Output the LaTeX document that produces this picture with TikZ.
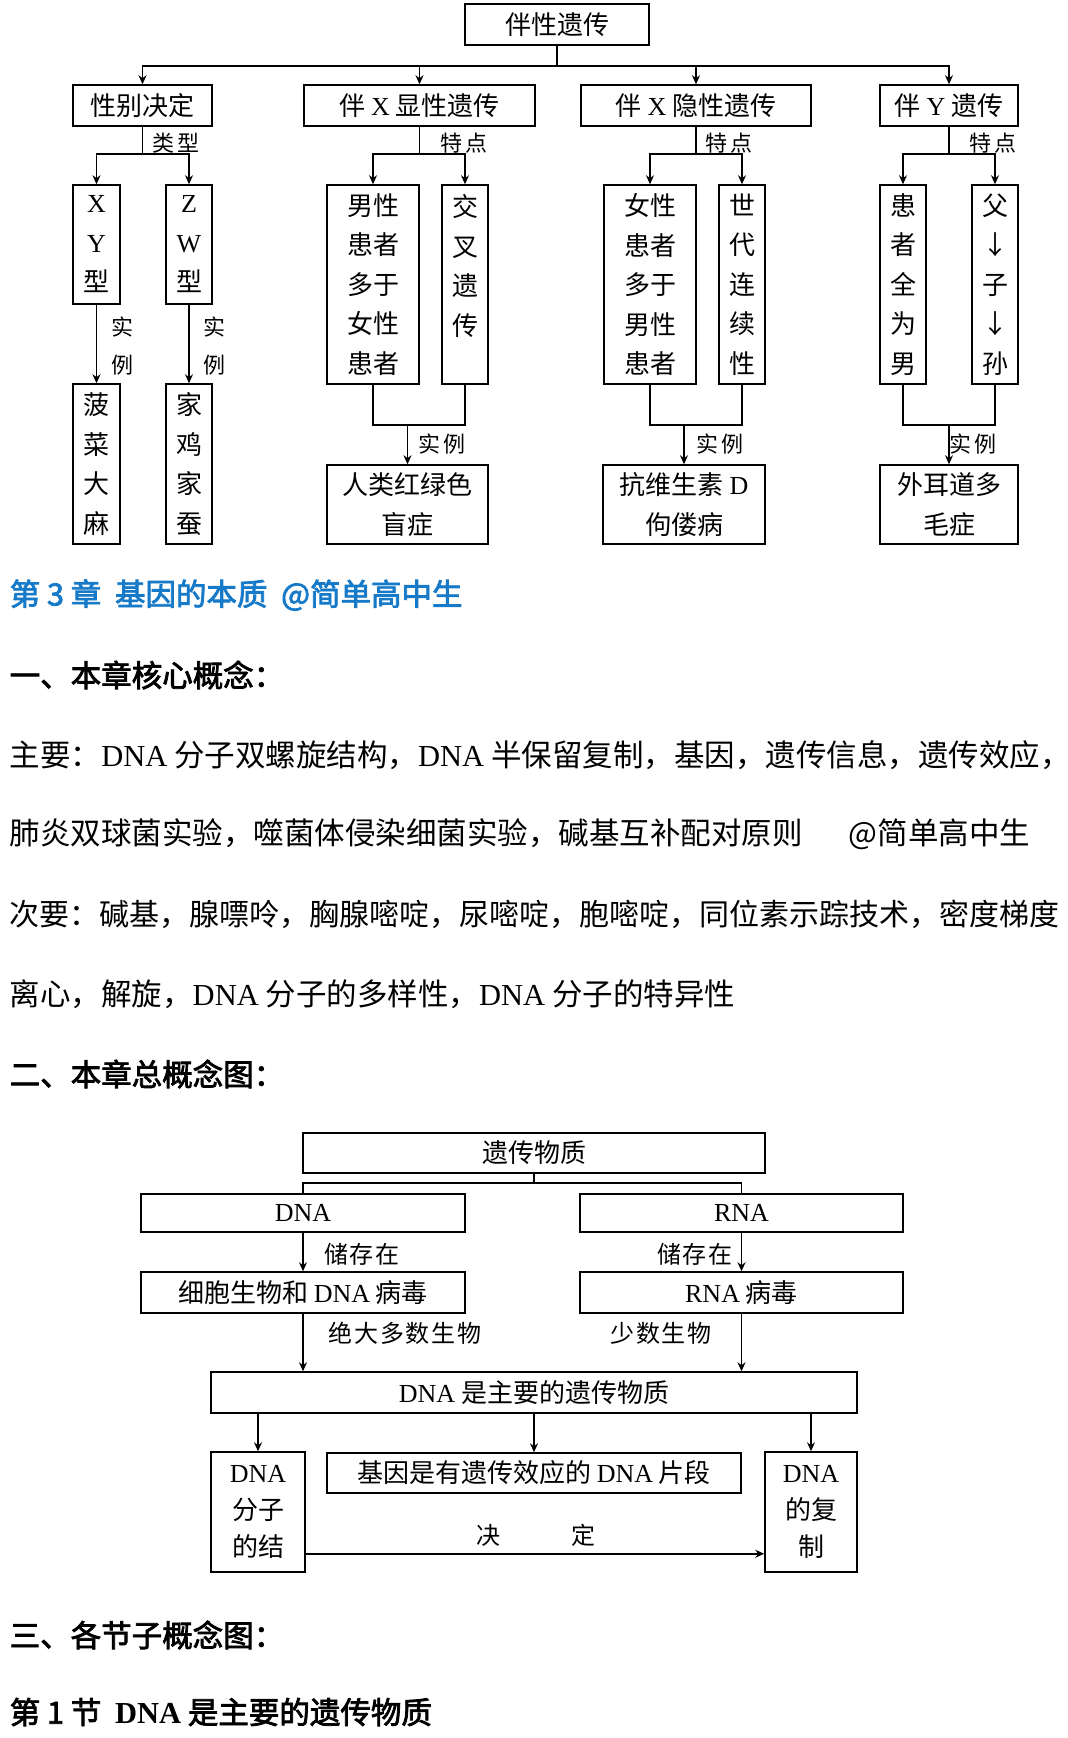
\documentclass[tikz,border=0pt]{standalone}
\usepackage{fontspec}
\setmainfont{Noto Sans CJK SC}
\newfontfamily\cjkb[FakeBold=2.5]{Noto Sans CJK SC}
\newfontfamily\lat{Liberation Serif}
\newcommand\en[1]{{\lat #1}}
\usetikzlibrary{arrows.meta}
\definecolor{chapblue}{RGB}{22,122,200}

\begin{document}
\begin{tikzpicture}[x=1pt,y=-1pt,line width=1.5pt,
    box/.style={draw,inner sep=0pt,align=center,font=\fontsize{26}{39.5}\selectfont},
    sbox/.style={box,font=\fontsize{26}{37}\selectfont},
    sz/.style 2 args={minimum width=#1pt,minimum height=#2pt},
    lab/.style={inner sep=0pt,align=center,font=\fontsize{22}{38}\selectfont\addfontfeature{LetterSpace=10}},
    lab2/.style={inner sep=0pt,font=\fontsize{24}{26}\selectfont\addfontfeature{LetterSpace=8}},
    txt/.style={anchor=west,inner sep=0pt,font=\fontsize{30.5}{34}\selectfont},
    head/.style={txt,font=\cjkb\fontsize{30.5}{34}\selectfont},
    arr/.style={-{Stealth[length=9pt,width=8pt]}}]
  \useasboundingbox[fill=white] (0,0) rectangle (1068,1738);

  % ---- 伴性遗传 ----
  \node[box,sz={184}{41}] (root) at (557,24.5) {伴性遗传};
  \node[box,sz={139}{41}] (sex) at (142.5,105.5) {性别决定};
  \node[box,sz={231}{41}] (xd) at (419.5,105.5) {伴 \en{X} 显性遗传};
  \node[box,sz={230}{41}] (xr) at (696,105.5) {伴 \en{X} 隐性遗传};
  \node[box,sz={138}{41}] (yl) at (949,105.5) {伴 \en{Y} 遗传};

  \node[box,sz={47}{119}] (xy) at (96.5,244.5) {\en{X}\\\en{Y}\\型};
  \node[box,sz={46}{119}] (zw) at (189,244.5) {\en{Z}\\\en{W}\\型};
  \node[box,sz={47}{160}] (bc) at (96.5,464) {菠\\菜\\大\\麻};
  \node[box,sz={46}{160}] (jj) at (189,464) {家\\鸡\\家\\蚕};

  \node[box,sz={92}{199}] (xd1) at (373,284.5) {男性\\患者\\多于\\女性\\患者};
  \node[box,sz={46}{199}] (xd2) at (465,284.5) {交\\叉\\遗\\传\\~};
  \node[box,sz={161}{79}] (xde) at (407.5,504.5) {人类红绿色\\盲症};

  \node[box,sz={92}{199}] (xr1) at (650,284.5) {女性\\患者\\多于\\男性\\患者};
  \node[box,sz={46}{199}] (xr2) at (742,284.5) {世\\代\\连\\续\\性};
  \node[box,sz={162}{79}] (xre) at (684,504.5) {抗维生素 \en{D}\\佝偻病};

  \node[box,sz={46}{199}] (yl1) at (903,284.5) {患\\者\\全\\为\\男};
  \node[box,sz={46}{199}] (yl2) at (995,284.5) {父\\↓\\子\\↓\\孙};
  \node[box,sz={138}{79}] (yle) at (949,504.5) {外耳道多\\毛症};

  \coordinate (rj) at (557,66);
  \foreach \n in {sex,xd,xr,yl}
    \draw[arr] (root.south) -- (rj) -| (\n.north);

  \coordinate (sj) at (142.5,154);
  \coordinate (xdj) at (419.5,154);
  \coordinate (xrj) at (696,154);
  \coordinate (ylj) at (949,154);
  \draw[arr] (sex.south) -- (sj) -| (xy.north);
  \draw[arr] (sj) -| (zw.north);
  \draw[arr] (xd.south) -- (xdj) -| (xd1.north);
  \draw[arr] (xdj) -| (xd2.north);
  \draw[arr] (xr.south) -- (xrj) -| (xr1.north);
  \draw[arr] (xrj) -| (xr2.north);
  \draw[arr] (yl.south) -- (ylj) -| (yl1.north);
  \draw[arr] (ylj) -| (yl2.north);

  \node[lab] at (176,143) {类型};
  \node[lab] at (464,143) {特点};
  \node[lab] at (729,143) {特点};
  \node[lab] at (993,143) {特点};

  \draw[arr] (xy.south) -- (bc.north);
  \draw[arr] (zw.south) -- (jj.north);
  \node[lab] at (122,346) {实\\例};
  \node[lab] at (214,346) {实\\例};

  \coordinate (xdk) at (407.5,425);
  \coordinate (xrk) at (684,425);
  \coordinate (ylk) at (949,425);
  \draw (xd1.south) |- (xdk) -| (xd2.south);
  \draw[arr] (xdk) -- (xde.north);
  \draw (xr1.south) |- (xrk) -| (xr2.south);
  \draw[arr] (xrk) -- (xre.north);
  \draw (yl1.south) |- (ylk) -| (yl2.south);
  \draw[arr] (ylk) -- (yle.north);
  \node[lab] at (442,444) {实例};
  \node[lab] at (720,444) {实例};
  \node[lab] at (973,444) {实例};

  % ---- text ----
  \node[head,text=chapblue] at (9,595) {第 3 章\ \ 基因的本质\ \ @简单高中生};
  \node[head] at (9,675) {一、本章核心概念：};
  \node[txt] at (9,755) {主要：\en{DNA} 分子双螺旋结构，\en{DNA} 半保留复制，基因，遗传信息，遗传效应，};
  \node[txt] at (9,834) {肺炎双球菌实验，噬菌体侵染细菌实验，碱基互补配对原则\hspace{46pt}@简单高中生};
  \node[txt,font=\fontsize{30}{34}\selectfont] at (9,914) {次要：碱基，腺嘌呤，胸腺嘧啶，尿嘧啶，胞嘧啶，同位素示踪技术，密度梯度};
  \node[txt] at (9,994) {离心，解旋，\en{DNA} 分子的多样性，\en{DNA} 分子的特异性};
  \node[head] at (9,1074) {二、本章总概念图：};

  % ---- 遗传物质 ----
  \node[box,sz={462}{40}] (gm) at (534,1153) {遗传物质};
  \node[box,sz={324}{38}] (dna) at (303,1213) {\en{DNA}};
  \node[box,sz={323}{38}] (rna) at (741.5,1213) {\en{RNA}};
  \node[box,sz={324}{41}] (cell) at (303,1292.5) {细胞生物和 \en{DNA} 病毒};
  \node[box,sz={323}{41}] (rv) at (741.5,1292.5) {\en{RNA} 病毒};
  \node[box,sz={646}{41}] (main) at (534,1392.5) {\en{DNA} 是主要的遗传物质};
  \node[sbox,sz={94}{120}] (st) at (258,1512) {\en{DNA}\\分子\\的结};
  \node[box,sz={414}{40}] (gene) at (534,1473) {基因是有遗传效应的 \en{DNA} 片段};
  \node[sbox,sz={92}{120}] (rep) at (811,1512) {\en{DNA}\\的复\\制};

  \coordinate (gj) at (534,1183);
  \draw (gm.south) -- (gj) -| (dna.north);
  \draw (gj) -| (rna.north);
  \draw[arr] (dna.south) -- (cell.north);
  \draw[arr] (rna.south) -- (rv.north);
  \draw[arr] (cell.south) -- (cell.south |- main.north);
  \draw[arr] (rv.south) -- (rv.south |- main.north);
  \node[lab2] at (362,1254) {储存在};
  \node[lab2] at (695,1254) {储存在};
  \node[lab2] at (405,1333) {绝大多数生物};
  \node[lab2] at (661,1333) {少数生物};

  \foreach \n in {st,gene,rep}
    \draw[arr] (main.south -| \n.north) -- (\n.north);
  \draw[arr] ([yshift=19pt]st.south east) -- ([yshift=19pt]st.south east -| rep.west);
  \node[lab2] at (488,1535) {决};
  \node[lab2] at (583,1535) {定};

  \node[head] at (9,1635) {三、各节子概念图：};
  \node[head] at (9,1712) {第 1 节\ \ {\lat\bfseries DNA} 是主要的遗传物质};
\end{tikzpicture}
\end{document}
